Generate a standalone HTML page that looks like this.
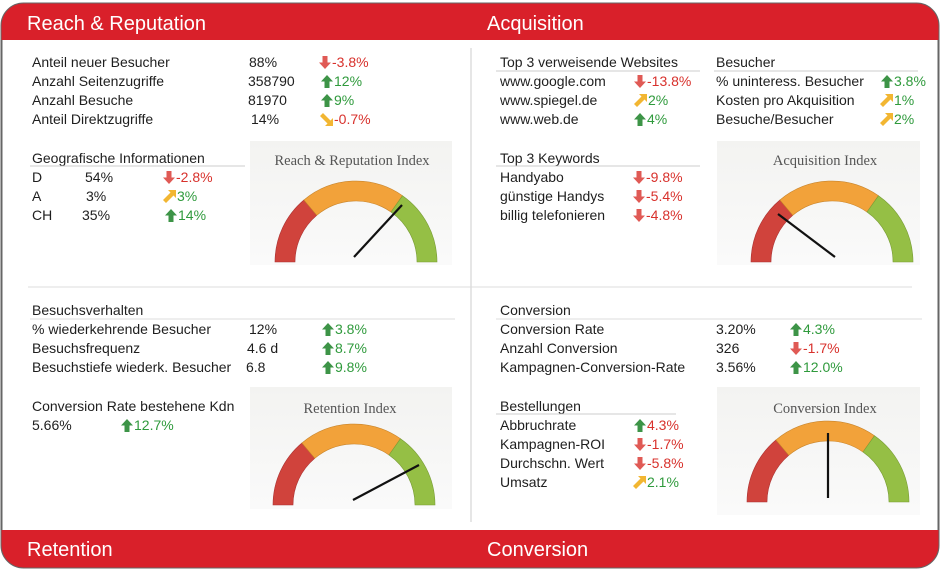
<!DOCTYPE html>
<html><head><meta charset="utf-8"><style>
html,body{margin:0;padding:0;background:#fff}
svg{display:block}
text{font-family:"Liberation Sans",sans-serif;font-size:14px;fill:#1e1e1e}
.h{font-size:20px;fill:#fff}
.t{font-family:"Liberation Serif",serif;font-size:14.5px;fill:#555}
.r{fill:#d8312c}.g{fill:#2f9a3c}
</style></head><body>
<svg width="940" height="570" viewBox="0 0 940 570" xmlns="http://www.w3.org/2000/svg">
<defs>
<symbol id="up" viewBox="0 0 12 13"><polygon points="6,0 12,6.5 8.5,6.5 8.5,13 3.5,13 3.5,6.5 0,6.5" fill="#3d9447"/></symbol>
<symbol id="dn" viewBox="0 0 12 13"><polygon points="6,13 12,6.5 8.5,6.5 8.5,0 3.5,0 3.5,6.5 0,6.5" fill="#e05a55"/></symbol>
<symbol id="ne" viewBox="0 0 13 13"><polygon points="13,0 13,8 10.5,5.5 3,13 0,10 7.5,2.5 5,0" fill="#f2b632"/></symbol>
<symbol id="se" viewBox="0 0 13 13"><polygon points="13,13 5,13 7.5,10.5 0,3 3,0 10.5,7.5 13,5" fill="#f2b632"/></symbol>
<linearGradient id="bg" x1="0" y1="0" x2="0" y2="1"><stop offset="0" stop-color="#f3f3f1"/><stop offset="1" stop-color="#fafafa"/></linearGradient>
<g id="gauge">
<path d="M-81,0 A81,81 0 0 1 -52.1,-62 L-39.2,-46.7 A61,61 0 0 0 -61,0 Z" fill="#d0433c" stroke="#a33" stroke-width=".6"/>
<path d="M-52.1,-62 A81,81 0 0 1 46.5,-66.3 L35,-50 A61,61 0 0 0 -39.2,-46.7 Z" fill="#f2a23a" stroke="#c8842a" stroke-width=".6"/>
<path d="M46.5,-66.3 A81,81 0 0 1 81,0 L61,0 A61,61 0 0 0 35,-50 Z" fill="#95bf45" stroke="#789c35" stroke-width=".6"/>
</g>
</defs>
<rect x="1.5" y="3.5" width="937" height="564" rx="22" fill="#fff" stroke="#666" stroke-width="2"/>
<path d="M1.5,40 V25.5 A22,22 0 0 1 23.5,3.5 H916.5 A22,22 0 0 1 938.5,25.5 V40 Z" fill="#d9202a"/>
<path d="M1.5,530 V545.5 A22,22 0 0 0 23.5,567.5 H916.5 A22,22 0 0 0 938.5,545.5 V530 Z" fill="#d9202a"/>
<text class="h" x="27" y="30">Reach &amp; Reputation</text>
<text class="h" x="487" y="30">Acquisition</text>
<text class="h" x="27" y="556">Retention</text>
<text class="h" x="487" y="556">Conversion</text>
<line x1="471" y1="48" x2="471" y2="522" stroke="#ccc"/>
<line x1="28" y1="287" x2="912" y2="287" stroke="#ddd"/>

<rect x="250" y="141" width="202" height="124" fill="url(#bg)"/>
<rect x="717" y="141" width="203" height="124" fill="url(#bg)"/>
<rect x="250" y="387" width="202" height="122" fill="url(#bg)"/>
<rect x="717" y="387" width="203" height="128" fill="url(#bg)"/>
<text class="t" x="352" y="165" text-anchor="middle">Reach &amp; Reputation Index</text>
<text class="t" x="825" y="165" text-anchor="middle">Acquisition Index</text>
<text class="t" x="350" y="413" text-anchor="middle">Retention Index</text>
<text class="t" x="825" y="413" text-anchor="middle">Conversion Index</text>
<use href="#gauge" transform="translate(356,262)"/>
<use href="#gauge" transform="translate(832,262)"/>
<use href="#gauge" transform="translate(354,505)"/>
<use href="#gauge" transform="translate(828,502)"/>
<g stroke="#111" stroke-width="2.2">
<line x1="354" y1="257" x2="402" y2="205"/>
<line x1="835" y1="257" x2="778" y2="214"/>
<line x1="353" y1="500" x2="419" y2="465"/>
<line x1="828" y1="498" x2="828" y2="433"/>
</g>

<text x="32" y="67">Anteil neuer Besucher</text><text x="249" y="67">88%</text><use href="#dn" x="319" y="56" width="12" height="13"/><text class="r" x="332" y="67">-3.8%</text>
<text x="32" y="86">Anzahl Seitenzugriffe</text><text x="248" y="86">358790</text><use href="#up" x="321" y="75" width="12" height="13"/><text class="g" x="334" y="86">12%</text>
<text x="32" y="105">Anzahl Besuche</text><text x="248" y="105">81970</text><use href="#up" x="321" y="94" width="12" height="13"/><text class="g" x="334" y="105">9%</text>
<text x="32" y="124">Anteil Direktzugriffe</text><text x="251" y="124">14%</text><use href="#se" x="320" y="113" width="13" height="13"/><text class="r" x="334" y="124">-0.7%</text>

<text x="32" y="163">Geografische Informationen</text><line x1="30" y1="166" x2="245" y2="166" stroke="#ccc"/>
<text x="32" y="182">D</text><text x="85" y="182">54%</text><use href="#dn" x="163" y="171" width="12" height="13"/><text class="r" x="176" y="182">-2.8%</text>
<text x="32" y="201">A</text><text x="86" y="201">3%</text><use href="#ne" x="163" y="190" width="13" height="13"/><text class="g" x="177" y="201">3%</text>
<text x="32" y="220">CH</text><text x="82" y="220">35%</text><use href="#up" x="165" y="209" width="12" height="13"/><text class="g" x="178" y="220">14%</text>

<text x="500" y="67">Top 3 verweisende Websites</text><line x1="496" y1="71" x2="700" y2="71" stroke="#ccc"/>
<text x="716" y="67">Besucher</text><line x1="714" y1="71" x2="918" y2="71" stroke="#ccc"/>
<text x="500" y="86">www.google.com</text><use href="#dn" x="634" y="75" width="12" height="13"/><text class="r" x="647" y="86">-13.8%</text>
<text x="500" y="105">www.spiegel.de</text><use href="#ne" x="634" y="94" width="13" height="13"/><text class="g" x="648" y="105">2%</text>
<text x="500" y="124">www.web.de</text><use href="#up" x="634" y="113" width="12" height="13"/><text class="g" x="647" y="124">4%</text>
<text x="716" y="86">% uninteress. Besucher</text><use href="#up" x="881" y="75" width="12" height="13"/><text class="g" x="894" y="86">3.8%</text>
<text x="716" y="105">Kosten pro Akquisition</text><use href="#ne" x="880" y="94" width="13" height="13"/><text class="g" x="894" y="105">1%</text>
<text x="716" y="124">Besuche/Besucher</text><use href="#ne" x="880" y="113" width="13" height="13"/><text class="g" x="894" y="124">2%</text>

<text x="500" y="163">Top 3 Keywords</text><line x1="496" y1="166" x2="700" y2="166" stroke="#ccc"/>
<text x="500" y="182">Handyabo</text><use href="#dn" x="633" y="171" width="12" height="13"/><text class="r" x="646" y="182">-9.8%</text>
<text x="500" y="201">günstige Handys</text><use href="#dn" x="633" y="190" width="12" height="13"/><text class="r" x="646" y="201">-5.4%</text>
<text x="500" y="220">billig telefonieren</text><use href="#dn" x="633" y="209" width="12" height="13"/><text class="r" x="646" y="220">-4.8%</text>

<text x="32" y="315">Besuchsverhalten</text><line x1="30" y1="319" x2="455" y2="319" stroke="#ddd"/>
<text x="32" y="334">% wiederkehrende Besucher</text><text x="249" y="334">12%</text><use href="#up" x="322" y="323" width="12" height="13"/><text class="g" x="335" y="334">3.8%</text>
<text x="32" y="353">Besuchsfrequenz</text><text x="247" y="353">4.6 d</text><use href="#up" x="322" y="342" width="12" height="13"/><text class="g" x="335" y="353">8.7%</text>
<text x="32" y="372">Besuchstiefe wiederk. Besucher</text><text x="246" y="372">6.8</text><use href="#up" x="322" y="361" width="12" height="13"/><text class="g" x="335" y="372">9.8%</text>
<text x="32" y="411">Conversion Rate bestehene Kdn</text>
<text x="32" y="430">5.66%</text><use href="#up" x="121" y="419" width="12" height="13"/><text class="g" x="134" y="430">12.7%</text>

<text x="500" y="315">Conversion</text><line x1="496" y1="319" x2="922" y2="319" stroke="#ddd"/>
<text x="500" y="334">Conversion Rate</text><text x="716" y="334">3.20%</text><use href="#up" x="790" y="323" width="12" height="13"/><text class="g" x="803" y="334">4.3%</text>
<text x="500" y="353">Anzahl Conversion</text><text x="716" y="353">326</text><use href="#dn" x="790" y="342" width="12" height="13"/><text class="r" x="803" y="353">-1.7%</text>
<text x="500" y="372">Kampagnen-Conversion-Rate</text><text x="716" y="372">3.56%</text><use href="#up" x="790" y="361" width="12" height="13"/><text class="g" x="803" y="372">12.0%</text>
<text x="500" y="411">Bestellungen</text><line x1="496" y1="414" x2="676" y2="414" stroke="#ccc"/>
<text x="500" y="430">Abbruchrate</text><use href="#up" x="634" y="419" width="12" height="13"/><text class="r" x="647" y="430">4.3%</text>
<text x="500" y="449">Kampagnen-ROI</text><use href="#dn" x="634" y="438" width="12" height="13"/><text class="r" x="647" y="449">-1.7%</text>
<text x="500" y="468">Durchschn. Wert</text><use href="#dn" x="634" y="457" width="12" height="13"/><text class="r" x="647" y="468">-5.8%</text>
<text x="500" y="487">Umsatz</text><use href="#ne" x="633" y="476" width="13" height="13"/><text class="g" x="647" y="487">2.1%</text>
</svg>
</body></html>
